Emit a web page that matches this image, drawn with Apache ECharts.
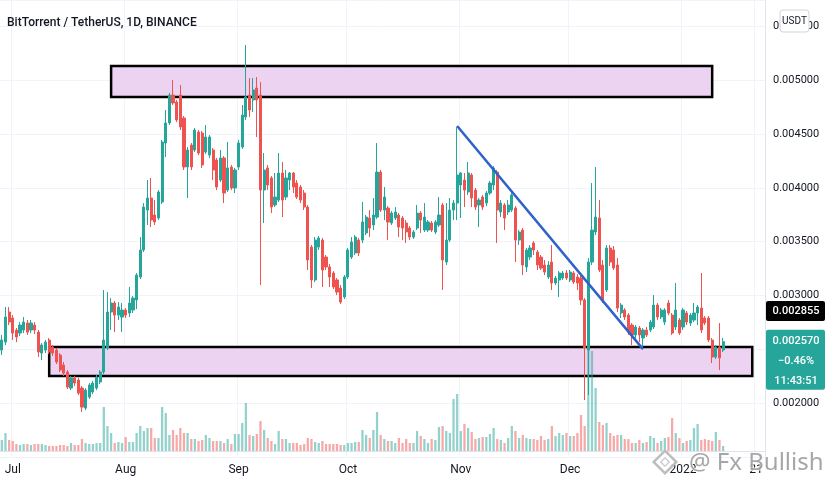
<!DOCTYPE html>
<html><head><meta charset="utf-8">
<script src="https://cdn.jsdelivr.net/npm/echarts@6/dist/echarts.min.js"></script>
<style>html,body{margin:0;padding:0;background:#fff}#c{width:828px;height:488px}</style>
</head><body><div id="c"></div>
<script>
// ---- data (BitTorrent / TetherUS, 1D, BINANCE) ----
const startDate = '2021-06-28';
const dayCount = 210; // categories through 2022-01-23 (right edge of the time scale)
const open = [
0.002492,0.002566,0.002845,0.002790,0.002678,0.002650,0.002678,0.002743,0.002678,0.002724,
0.002659,0.002464,0.002492,0.002585,0.002520,0.002492,0.002446,0.002353,0.002288,0.002139,
0.002232,0.002213,0.002139,0.001953,0.002055,0.002102,0.002139,0.002195,0.002288,0.002511,
0.002845,0.002929,0.002817,0.002799,0.002864,0.002836,0.002864,0.002957,0.003171,0.003422,
0.003793,0.003905,0.003747,0.003719,0.003868,0.004416,0.004602,0.004862,0.004797,0.004862,
0.004648,0.004193,0.004397,0.004351,0.004518,0.004509,0.004332,0.004304,0.004351,0.004258,
0.004072,0.004277,0.003979,0.004193,0.003998,0.004193,0.004379,0.004658,0.004862,0.004816,
0.004927,0.004862,0.003979,0.004184,0.004091,0.003840,0.003886,0.004137,0.003914,0.004072,
0.004137,0.004044,0.004007,0.003951,0.003821,0.003449,0.003143,0.003449,0.003514,0.003356,
0.003264,0.003208,0.003143,0.003068,0.002985,0.003171,0.003356,0.003394,0.003514,0.003514,
0.003580,0.003719,0.003654,0.003728,0.004146,0.003793,0.003812,0.003672,0.003719,0.003747,
0.003719,0.003672,0.003626,0.003542,0.003626,0.003765,0.003607,0.003607,0.003672,0.003589,
0.003654,0.003840,0.003310,0.003514,0.003793,0.003858,0.004026,0.004072,0.003961,0.004119,
0.003979,0.003840,0.003914,0.003858,0.003951,0.004026,0.004146,0.003775,0.003840,0.003775,
0.003793,0.003812,0.003514,0.003607,0.003264,0.003356,0.003487,0.003403,0.003356,0.003282,
0.003171,0.003310,0.003115,0.003143,0.003161,0.003208,0.003143,0.003208,0.003171,0.003161,
0.002957,0.002492,0.003310,0.003589,0.003719,0.003282,0.003050,0.003440,0.003422,0.003282,
0.002836,0.002864,0.002817,0.002724,0.002632,0.002697,0.002604,0.002678,0.002678,0.002706,
0.002910,0.002799,0.002752,0.002929,0.002817,0.002706,0.002771,0.002706,0.002836,0.002743,
0.002771,0.002836,0.002882,0.002790,0.002790,0.002585,0.002427,0.002520,0.002492];
const close = [
0.002585,0.002799,0.002752,0.002650,0.002613,0.002724,0.002752,0.002659,0.002743,0.002678,
0.002474,0.002539,0.002566,0.002474,0.002464,0.002381,0.002306,0.002278,0.002148,0.002232,
0.002185,0.002092,0.001962,0.002120,0.002167,0.002185,0.002241,0.002288,0.002585,0.002845,
0.002929,0.002817,0.002892,0.002864,0.002817,0.002929,0.002975,0.003189,0.003422,0.003821,
0.003905,0.003700,0.003682,0.003961,0.004425,0.004602,0.004862,0.004788,0.004630,0.004565,
0.004193,0.004351,0.004193,0.004537,0.004323,0.004212,0.004472,0.004472,0.004165,0.004007,
0.004277,0.003951,0.004184,0.003998,0.004165,0.004416,0.004676,0.004844,0.004723,0.004909,
0.004816,0.003979,0.004165,0.004026,0.003821,0.003914,0.004137,0.003886,0.004091,0.004137,
0.004007,0.003914,0.003886,0.003821,0.003329,0.003143,0.003514,0.003533,0.003236,0.003264,
0.003171,0.003078,0.003031,0.002938,0.003171,0.003422,0.003496,0.003542,0.003394,0.003682,
0.003728,0.003626,0.003747,0.004146,0.003793,0.003914,0.003682,0.003765,0.003775,0.003635,
0.003626,0.003589,0.003542,0.003589,0.003765,0.003700,0.003728,0.003682,0.003607,0.003682,
0.003747,0.003329,0.003514,0.003793,0.003858,0.004119,0.004137,0.003979,0.004137,0.003905,
0.003821,0.003886,0.003821,0.003951,0.004044,0.004184,0.003793,0.003858,0.003719,0.003840,
0.003933,0.003514,0.003589,0.003282,0.003422,0.003440,0.003422,0.003282,0.003254,0.003217,
0.003282,0.003115,0.003161,0.003208,0.003208,0.003161,0.003217,0.003124,0.003115,0.002957,
0.002511,0.003310,0.003607,0.003728,0.003236,0.002957,0.003440,0.003310,0.003254,0.002882,
0.002910,0.002799,0.002659,0.002632,0.002706,0.002632,0.002678,0.002632,0.002752,0.002910,
0.002799,0.002864,0.002864,0.002836,0.002650,0.002864,0.002650,0.002864,0.002752,0.002817,
0.002836,0.002892,0.002678,0.002743,0.002585,0.002427,0.002520,0.002418,0.002570];
const low = [
0.002446,0.002539,0.002724,0.002585,0.002566,0.002622,0.002650,0.002632,0.002650,0.002641,
0.002427,0.002399,0.002464,0.002455,0.002436,0.002362,0.002288,0.002250,0.002130,0.002120,
0.002158,0.002074,0.001916,0.001934,0.002037,0.002083,0.002120,0.002176,0.002269,0.002492,
0.002678,0.002659,0.002771,0.002659,0.002790,0.002799,0.002836,0.002873,0.003152,0.003403,
0.003654,0.003635,0.003654,0.003700,0.003849,0.004286,0.004583,0.004769,0.004611,0.004537,
0.004165,0.003905,0.004165,0.004332,0.004304,0.004184,0.004314,0.004277,0.004072,0.003979,
0.004054,0.003858,0.003961,0.003979,0.003951,0.004165,0.004360,0.004630,0.004658,0.004704,
0.004472,0.003096,0.003672,0.003979,0.003765,0.003821,0.003868,0.003728,0.003886,0.003979,
0.003951,0.003896,0.003858,0.003793,0.003236,0.003068,0.003124,0.003422,0.003078,0.003236,
0.003078,0.003059,0.003003,0.002920,0.002966,0.003152,0.003338,0.003375,0.003366,0.003487,
0.003561,0.003542,0.003607,0.003710,0.003775,0.003700,0.003514,0.003654,0.003700,0.003542,
0.003514,0.003487,0.003514,0.003524,0.003607,0.003580,0.003589,0.003589,0.003589,0.003570,
0.003635,0.003050,0.003282,0.003496,0.003700,0.003700,0.003719,0.003821,0.003933,0.003821,
0.003793,0.003635,0.003793,0.003830,0.003933,0.003979,0.003487,0.003728,0.003607,0.003747,
0.003775,0.003310,0.003468,0.003189,0.003217,0.003329,0.003375,0.003236,0.003236,0.003189,
0.003152,0.003050,0.003096,0.002985,0.003143,0.003143,0.003124,0.003106,0.003050,0.002910,
0.002027,0.002074,0.003282,0.003561,0.003217,0.002929,0.003031,0.003273,0.003236,0.002845,
0.002790,0.002771,0.002632,0.002539,0.002585,0.002566,0.002520,0.002613,0.002659,0.002687,
0.002771,0.002780,0.002724,0.002817,0.002632,0.002678,0.002632,0.002678,0.002724,0.002715,
0.002752,0.002724,0.002650,0.002724,0.002566,0.002371,0.002408,0.002306,0.002474];
const high = [
0.002632,0.002892,0.002892,0.002817,0.002697,0.002752,0.002799,0.002771,0.002771,0.002752,
0.002678,0.002557,0.002585,0.002604,0.002539,0.002511,0.002464,0.002381,0.002306,0.002250,
0.002250,0.002232,0.002158,0.002139,0.002185,0.002204,0.002260,0.002306,0.003050,0.003031,
0.002975,0.002948,0.002938,0.002929,0.002882,0.003078,0.002994,0.003208,0.003542,0.003858,
0.004072,0.004091,0.003886,0.003979,0.004444,0.004723,0.004881,0.005002,0.004816,0.004955,
0.004667,0.004379,0.004416,0.004555,0.004537,0.004528,0.004583,0.004490,0.004370,0.004277,
0.004351,0.004295,0.004425,0.004212,0.004184,0.004444,0.004769,0.005327,0.005020,0.005020,
0.005029,0.004983,0.004323,0.004212,0.004109,0.004137,0.004323,0.004239,0.004165,0.004146,
0.004146,0.004072,0.004026,0.003979,0.003840,0.003468,0.003542,0.003552,0.003533,0.003375,
0.003291,0.003226,0.003161,0.003096,0.003189,0.003440,0.003542,0.003561,0.003533,0.003868,
0.003747,0.003793,0.003905,0.004416,0.004165,0.004007,0.003830,0.003784,0.003821,0.003765,
0.003738,0.003700,0.003645,0.003607,0.003840,0.003784,0.003858,0.003700,0.003691,0.003700,
0.003914,0.003858,0.003858,0.003905,0.003886,0.004565,0.004146,0.004137,0.004239,0.004137,
0.003998,0.003905,0.003933,0.003970,0.004063,0.004202,0.004165,0.003886,0.003858,0.003886,
0.003951,0.003830,0.003607,0.003626,0.003440,0.003468,0.003505,0.003422,0.003375,0.003329,
0.003319,0.003468,0.003180,0.003226,0.003226,0.003236,0.003236,0.003226,0.003198,0.003180,
0.002975,0.003347,0.004044,0.004193,0.003886,0.003329,0.003468,0.003468,0.003459,0.003347,
0.002929,0.002882,0.002836,0.002743,0.002724,0.002715,0.002697,0.002706,0.002771,0.003003,
0.002929,0.002882,0.002882,0.002957,0.002836,0.003115,0.002790,0.002882,0.002855,0.002836,
0.002929,0.002910,0.003208,0.002808,0.002808,0.002604,0.002539,0.002743,0.002604];
// relative volume (no scale shown in the reference)
const volume = [
11,18,11,10,7,6,7,7,6,7, 7,7,6,5,5,5,6,6,5,8, 6,6,12,8,7,7,8,8,44,25,
18,8,9,8,14,9,9,18,25,20, 23,23,13,13,44,38,16,21,16,23, 18,18,12,12,10,11,16,13,10,10,
10,8,12,7,17,17,28,48,16,15, 17,30,21,13,10,7,20,12,12,8, 8,8,6,7,13,12,9,8,10,7,
7,7,7,6,6,8,8,9,9,21, 16,13,21,39,
16,12,10,10,8,13,8,12,8,8, 20,15,12,8,12,11,24,25,20,18, 52,57,20,27,23,19,12,13,14,14,
17,23,12,11,8,13,25,20,13,16, 13,12,12,11,15,11,12,25,15,18, 16,18,15,15,18,36,25,106,100,63,
29,26,28,18,15,16,16,12,12,8, 8,11,8,9,15,13,8,10,13,14, 33,18,13,8,10,11,23,27,11,12,
11,10,19,11,5];
const tickDates = ['2021-07-01','2021-08-01','2021-09-01','2021-10-01','2021-11-01','2021-12-01','2022-01-01','2022-01-21'];
const tickLabels = ['Jul','Aug','Sep','Oct','Nov','Dec','2022','21'];
const priceMin = 0.0015, priceMax = 0.005745, priceStep = 0.0005;
const upperZone = {from:'2021-07-28', to:'2022-01-09', top:0.005132, bottom:0.004844};
const lowerZone = {from:'2021-07-11', to:'2022-01-20', top:0.002520, bottom:0.002250};
const keyLevel = 0.002855;
const lastPrice = 0.002570;
const lastChange = '\u22120.46%';
const countdown = '11:43:51';
const trendStart = ['2021-10-31', 0.004574];
const trendEnd = ['2021-12-21', 0.002501];

// ---- build ----
const dates = [];
{ const d = new Date(startDate + 'T00:00:00Z');
  for (let i = 0; i < dayCount; i++) { dates.push(d.toISOString().slice(0,10)); d.setUTCDate(d.getUTCDate()+1); } }
const labelOf = {}; tickDates.forEach((d,i)=>labelOf[d]=tickLabels[i]);
const UP = '#26a69a', DOWN = '#ef5350';
const candles = open.map((o,i)=>[o, close[i], low[i], high[i]]);
const vols = volume.map((v,i)=>({value:v, itemStyle:{color: close[i] >= open[i] ? 'rgba(38,166,154,0.5)' : 'rgba(239,83,80,0.5)'}}));
const FONT = 'Roboto, "Noto Sans", sans-serif';
const GRID_R = 63;

const chart = echarts.init(document.getElementById('c'), null, {renderer:'canvas'});
const zone = (z) => [{xAxis:z.from, yAxis:z.top}, {xAxis:z.to, yAxis:z.bottom}];
const option = {
  animation:false,
  backgroundColor:'#ffffff',
  grid:[
    {left:0, right:GRID_R, top:0, bottom:31.2},
    {left:0, right:GRID_R, top:301, bottom:37}
  ],
  xAxis:[
    {type:'category', data:dates, gridIndex:0, boundaryGap:true,
     axisLine:{show:false}, axisTick:{show:false},
     axisLabel:{interval:(i,v)=>labelOf[v]!==undefined, formatter:v=>labelOf[v]||'', color:'#131722', fontSize:12, margin:7, fontFamily:FONT},
     splitLine:{show:true, interval:(i,v)=>labelOf[v]!==undefined, lineStyle:{color:'#f0f3fa', width:1}}},
    {type:'category', data:dates, gridIndex:1, boundaryGap:true,
     axisLine:{show:true, lineStyle:{color:'#e0e3eb'}}, axisTick:{show:false}, axisLabel:{show:false}, splitLine:{show:false}}
  ],
  yAxis:[
    {type:'value', gridIndex:0, position:'right', min:priceMin, max:priceMax, interval:priceStep,
     axisLine:{show:true, lineStyle:{color:'#e0e3eb'}}, axisTick:{show:false},
     axisLabel:{formatter:v=> (v < 0.0019 || v > 0.0056) ? '' : v.toFixed(6), color:'#131722', fontSize:11, margin:8, fontFamily:FONT},
     splitLine:{show:true, lineStyle:{color:'#f0f3fa', width:1}}},
    {type:'value', gridIndex:1, min:0, max:150, show:false, splitLine:{show:false}}
  ],
  series:[
    {type:'line', xAxisIndex:0, yAxisIndex:0, data:[], z:1, silent:true,
     markArea:{silent:true, itemStyle:{color:'#ecd3f1', borderWidth:0},
       data:[zone(upperZone), zone(lowerZone)]}},
    {type:'bar', name:'Volume', xAxisIndex:1, yAxisIndex:1, data:vols, barWidth:'62%', z:2, silent:true},
    {type:'candlestick', name:'BTT/USDT', xAxisIndex:0, yAxisIndex:0, data:candles, barWidth:'72%', z:3,
     itemStyle:{color:UP, color0:DOWN, borderColor:UP, borderColor0:DOWN, borderWidth:1}},
    {type:'line', xAxisIndex:0, yAxisIndex:0, data:[], z:5, silent:true,
     markArea:{silent:true, itemStyle:{color:'rgba(0,0,0,0)', borderColor:'#000', borderWidth:2.5},
       data:[zone(upperZone), zone(lowerZone)]},
     markLine:{silent:true, symbol:['none','none'], label:{show:false},
       data:[
         {yAxis:keyLevel, lineStyle:{color:'#000', width:3, type:'solid'}},
         {yAxis:lastPrice, lineStyle:{color:UP, width:1, type:[1.5,2.5]}},
         [{coord:trendStart, lineStyle:{color:'#2d62c8', width:2.5, type:'solid'}}, {coord:trendEnd}]
       ]}}
  ]
};
chart.setOption(option);

const yKey = chart.convertToPixel({yAxisIndex:0}, keyLevel);
const yLast = chart.convertToPixel({yAxisIndex:0}, lastPrice);
const axisX = 828 - GRID_R;
const txt = (x,y,text,font,fill,align) => ({type:'text', z:101, style:{x:x, y:y, text:text, font:font, fill:fill, textAlign:align||'center', align:align||'center', textVerticalAlign:'middle', verticalAlign:'middle'}});
chart.setOption({graphic:[
  txt(7, 23, 'BitTorrent / TetherUS, 1D, BINANCE', '500 12px ' + FONT, '#131722', 'left'),
  {type:'rect', z:100, shape:{x:780, y:10, width:29, height:22, r:3}, style:{fill:'#fff', stroke:'#d1d4dc', lineWidth:1}},
  txt(794.5, 21, 'USDT', '10px ' + FONT, '#131722'),
  {type:'rect', z:100, shape:{x:axisX+1, y:yKey-10, width:59, height:20, r:2}, style:{fill:'#000'}},
  txt(axisX+31, yKey, '0.002855', '500 11px ' + FONT, '#fff'),
  {type:'rect', z:100, shape:{x:axisX+1, y:yLast-12, width:59, height:60, r:2}, style:{fill:UP}},
  txt(axisX+31, yLast, lastPrice.toFixed(6), '500 11px ' + FONT, '#fff'),
  txt(axisX+31, yLast+20, lastChange, '500 11px ' + FONT, '#fff'),
  txt(axisX+31, yLast+40, countdown, '500 11px ' + FONT, '#fff'),
  {type:'group', x:665, y:462, rotation:Math.PI/4, z:102, children:[
    {type:'rect', z:102, shape:{x:-8, y:-8, width:16, height:16}, style:{fill:'rgba(255,255,255,0.85)', stroke:'#bdbdbd', lineWidth:2.5}},
    {type:'rect', z:103, shape:{x:-3, y:-3, width:6, height:6}, style:{fill:'none', stroke:'#cfcfcf', lineWidth:1.5}}
  ]},
  {type:'text', z:102, style:{x:689, y:463, text:'@ Fx Bullish', font:'24px "Noto Sans", sans-serif', fill:'rgba(150,150,150,0.85)', stroke:'rgba(255,255,255,0.9)', lineWidth:1.5, textAlign:'left', align:'left', textVerticalAlign:'middle', verticalAlign:'middle'}}
]});
</script></body></html>
